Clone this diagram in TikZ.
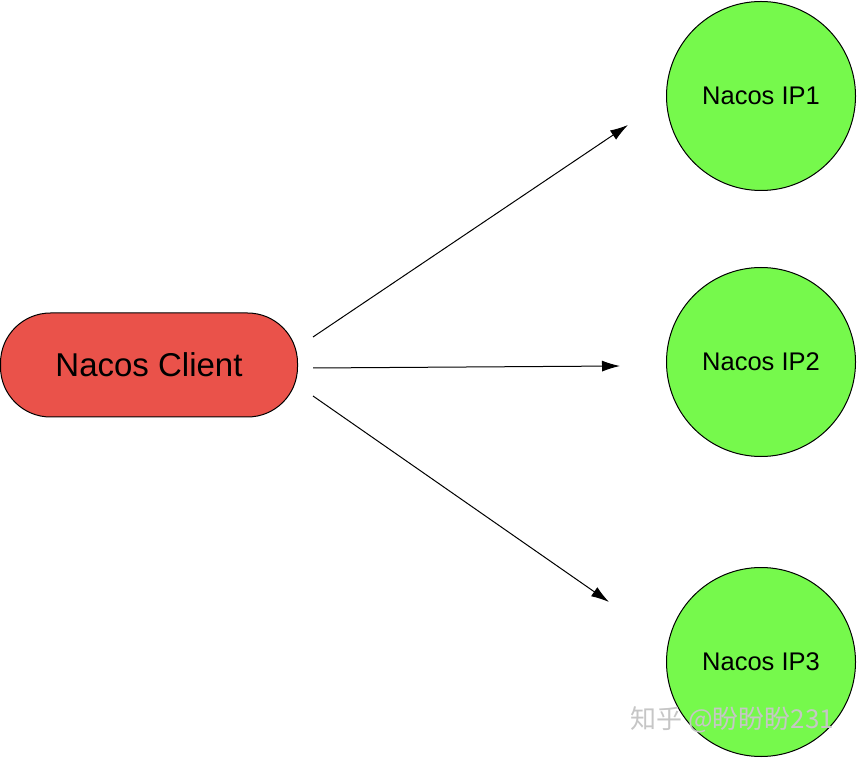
\documentclass[tikz,border=0pt]{standalone}
\usepackage{fontspec}
\setmainfont{Liberation Sans}
\newfontfamily\cjk{Noto Sans CJK SC}
\usetikzlibrary{arrows.meta}
\definecolor{cred}{HTML}{EA524A}
\definecolor{cgreen}{HTML}{76F94C}
\begin{document}
\begin{tikzpicture}[x=1pt,y=1pt,
  srv/.style={circle,draw=black,line width=1pt,fill=cgreen,minimum size=189pt,inner sep=0pt,font=\fontsize{25.5}{30}\selectfont},
  arr/.style={line width=1pt,-{Latex[length=18pt,width=11pt]}}]
\useasboundingbox (0,0) rectangle (858,758);
\node[draw=black,line width=1pt,fill=cred,rounded corners=50pt,minimum width=297pt,minimum height=104pt,font=\fontsize{33}{38}\selectfont] (c) at (149,393) {Nacos Client};
\node[srv] (s1) at (761,662) {Nacos IP1};
\node[srv] (s2) at (761,396) {Nacos IP2};
\node[srv] (s3) at (761,96) {Nacos IP3};
\coordinate (a1) at (313,421); \coordinate (b1) at (628,633);
\coordinate (a2) at (313,390); \coordinate (b2) at (620,392);
\coordinate (a3) at (313,362); \coordinate (b3) at (609,156);
\draw[arr] (a1) -- (b1);
\draw[arr] (a2) -- (b2);
\draw[arr] (a3) -- (b3);
\node[text=gray!45,font=\cjk\fontsize{26}{30}\selectfont,anchor=west,inner sep=0pt] (w) at (630,38) {知乎 @盼盼盼231};
\end{tikzpicture}
\end{document}
